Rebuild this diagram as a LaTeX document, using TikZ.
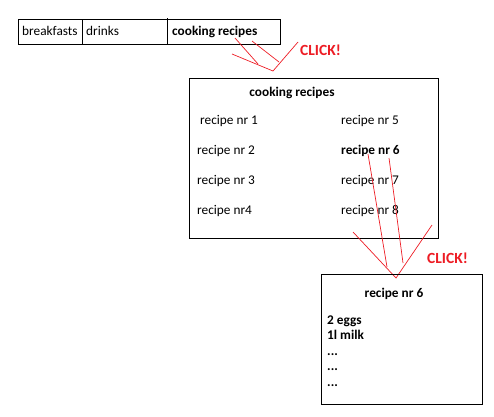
\documentclass[tikz,border=0pt]{standalone}
\usepackage{fontspec}
\setmainfont{Carlito}
\usetikzlibrary{calc}
\definecolor{paintred}{RGB}{237,28,36}
\tikzset{
	every node/.style={font=\fontsize{13.3}{16}\selectfont, inner sep=0pt},
	frame/.style={draw=black, line width=1pt},
	label text/.style={anchor=base west},
	bold text/.style={anchor=base west, font=\fontsize{13.3}{16}\selectfont\bfseries},
	click text/.style={anchor=base west, text=paintred, font=\fontsize{15.5}{18}\selectfont\bfseries},
	pointer/.style={draw=paintred, line width=.7pt},
}
\begin{document}
\begin{tikzpicture}[x=1pt,y=-1pt]
	\useasboundingbox (0,0) rectangle (494,416);
	% menu bar
	\draw[frame] (18,19) rectangle (280,44);
	\draw[frame] (82,19) -- (82,44) (167,18) -- (167,44);
	\node[label text] (breakfasts) at (22,35) {breakfasts};
	\node[label text] (drinks) at (86,35) {drinks};
	\node[bold text] (cooking) at (172,35) {cooking recipes};
	% first click
	\coordinate (tip1) at (273,71);
	\draw[pointer] (235,38) -- (258,64) (252,41) -- (279,62);
	\draw[pointer] (232,54) -- (tip1) -- (298,42);
	\node[click text] (click1) at (300,55) {CLICK!};
	% recipe list
	\draw[frame] (189,78) rectangle (438,238);
	\node[bold text, anchor=base] (listtitle) at (292,96) {cooking recipes};
	\node[label text] (r1) at (200,124) {recipe nr 1};
	\node[label text] (r2) at (197,154) {recipe nr 2};
	\node[label text] (r3) at (197,184) {recipe nr 3};
	\node[label text] (r4) at (197,214) {recipe nr4};
	\node[label text] (r5) at (341,124) {recipe nr 5};
	\node[bold text] (r6) at (341,154) {recipe nr 6};
	\node[label text] (r7) at (341,184) {recipe nr 7};
	\node[label text] (r8) at (341,214) {recipe nr 8};
	% second click
	\coordinate (tip2) at (396,278);
	\draw[pointer] (368,154) -- (387,267) (389,158) -- (403,263);
	\draw[pointer] (353,232) -- (tip2) -- (432,225);
	\node[click text] (click2) at (427,263) {CLICK!};
	% recipe page
	\draw[frame] (321,274) rectangle (482,404);
	\node[bold text, anchor=base] (pagetitle) at (394,297) {recipe nr 6};
	\node[bold text] (eggs) at (327,324) {2 eggs};
	\node[bold text] (milk) at (327,339) {1l milk};
	\foreach \y in {355,370,386}
		\node[bold text] at (327,\y) {...};
\end{tikzpicture}
\end{document}
